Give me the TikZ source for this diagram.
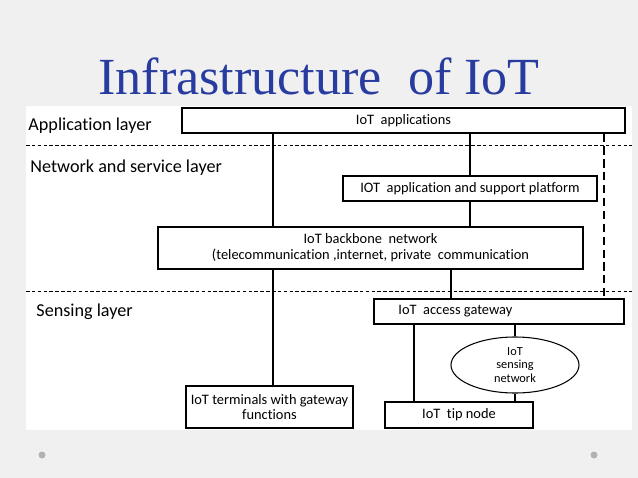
\documentclass[tikz,border=0pt]{standalone}
\usepackage{fontspec}
\setmainfont[Ligatures=NoCommon]{Carlito}
\newfontfamily\titlefont{Liberation Serif}
\usetikzlibrary{shapes.geometric}
\definecolor{titleblue}{RGB}{40,60,160}
\begin{document}
\begin{tikzpicture}[x=0.03cm, y=-0.03cm, line width=0.9pt]
    \tikzstyle{box} = [draw, rectangle, fill=white, minimum height=0.75cm, font=\fontsize{12.3}{13.5}\selectfont, align=center, inner sep=1pt]
    \tikzstyle{layer} = [anchor=west, font=\fontsize{15.5}{17}\selectfont]
    \tikzstyle{sep} = [densely dashed, line width=0.7pt]

    % slide background
    \fill[gray!12] (0,0) rectangle (638,478);
    \fill[white] (26,106) rectangle (632,430);
    \node[font=\titlefont\fontsize{44.5}{48}\selectfont, text=titleblue] (title) at (319,76) {Infrastructure\ \ of IoT};
    \fill[gray!60] (42,455) circle (3.5);
    \fill[gray!60] (594,455) circle (3.5);

    % layers
    \node[layer] (applayer) at (24,126) {Application layer};
    \node[layer] (netlayer) at (26,168) {Network and service layer};
    \node[layer] (senslayer) at (32,312) {Sensing layer};
    \draw[sep] (26,145) -- (632,145);
    \draw[sep] (26,291) -- (632,291);

    % boxes
    \node[box, minimum width=13.29cm] (app) at (403.5,120.5) {IoT\ \ applications};
    \node[box, minimum width=7.62cm] (platform) at (470,188.5) {IOT\ \ application and support platform};
    \node[box, minimum width=12.75cm, minimum height=1.26cm] (backbone) at (370.5,248) {IoT backbone\ \ network\\(telecommunication ,internet, private\ \ communication};
    \node[box, minimum width=7.5cm] (gateway) at (499,311.5) {};
    \node[anchor=west, font=\fontsize{12.3}{13.5}\selectfont] (gwtext) at (394,311.5) {IoT\ \ access gateway};
    \node[draw, ellipse, fill=white, minimum width=3.84cm, minimum height=1.68cm, inner sep=0pt, align=center, font=\fontsize{10.5}{11.5}\selectfont] (sensing) at (515,365) {IoT\\sensing\\network};
    \node[box, minimum width=5.01cm, minimum height=1.26cm] (terminals) at (269.5,407) {IoT terminals with gateway\\functions};
    \node[box, minimum width=4.44cm, minimum height=0.78cm] (tip) at (459,415) {IoT\ \ tip node};

    \coordinate (termlink) at (273,0);
    \coordinate (gwlink) at (451,0);
    \coordinate (dlink) at (604,0);
    \coordinate (tiplink) at (414,0);

    % connectors
    \draw (app.south -| termlink) -- (backbone.north -| termlink);
    \draw (backbone.south -| termlink) -- (terminals.north -| termlink);
    \draw (app.south -| platform) -- (platform.north);
    \draw (platform.south) -- (backbone.north -| platform);
    \draw (backbone.south -| gwlink) -- (gateway.north -| gwlink);
    \draw[dash pattern=on 7pt off 4pt] (app.south -| dlink) -- (gateway.north -| dlink);
    \draw (gateway.south -| tiplink) -- (tip.north -| tiplink);
    \draw (gateway.south -| sensing) -- (sensing.north);
    \draw (sensing.south) -- (tip.north -| sensing);
\end{tikzpicture}
\end{document}
